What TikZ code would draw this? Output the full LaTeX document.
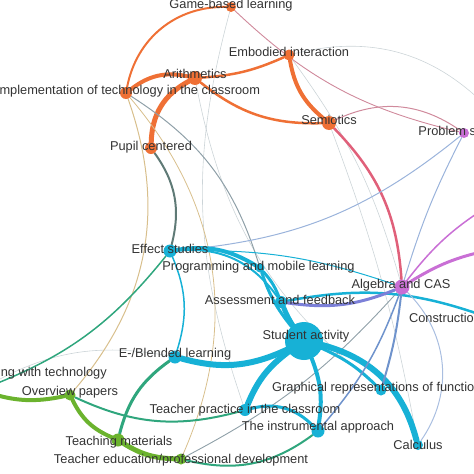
\documentclass[tikz,border=0pt]{standalone}
\usepackage{fontspec}
\setmainfont{Liberation Sans}
\usetikzlibrary{backgrounds}
\definecolor{themeorange}{HTML}{EF7035}
\definecolor{themecyan}{HTML}{17B1D6}
\definecolor{themepurple}{HTML}{C96FD5}
\definecolor{themegreen}{HTML}{6BB32E}
\definecolor{themeteal}{HTML}{2FA67D}
\definecolor{linkred}{HTML}{E0607A}
\definecolor{linkpink}{HTML}{D08A9C}
\definecolor{linkblue}{HTML}{6F93CC}
\definecolor{linkviolet}{HTML}{7C80D8}
\definecolor{linkgray}{HTML}{8FA0A8}
\definecolor{linkdark}{HTML}{5F7A76}
\definecolor{linkbeige}{HTML}{D8BF8C}

\begin{document}
\begin{tikzpicture}[
    x=1pt, y=-1pt,
    topic/.style={circle, inner sep=0pt, minimum size=#1, draw=none},
    every label/.style={font=\fontsize{12.8}{14}\selectfont, text=black!80, inner sep=0pt},
    link/.style={draw, line cap=round},
    faint/.style={link, draw=linkgray, line width=0.6pt, draw opacity=0.45}
  ]
    \useasboundingbox (0,0) rectangle (474,474);

    % orange cluster
    \node[topic=10pt, fill=themeorange]  (game)   at (231,7)   {};
    \node[topic=11pt, fill=themeorange]  (embod)  at (289,55)  {};
    \node[topic=14pt, fill=themeorange]  (arith)  at (195,78)  {};
    \node[topic=12pt, fill=themeorange]  (impl)   at (126,93)  {};
    \node[topic=14pt, fill=themeorange]  (semio)  at (329,123) {};
    \node[topic=12pt, fill=themeorange]  (pupil)  at (151,148) {};
    % purple cluster
    \node[topic=10pt, fill=themepurple]  (problem) at (464,133) {};
    \node[topic=15pt, fill=themepurple]  (algebra) at (402,287) {};
    % cyan cluster
    \node[topic=13pt, fill=themecyan]    (effect)    at (170,251) {};
    \node[topic=9pt,  fill=themecyan]    (progr)     at (260,268) {};
    \node[topic=12pt, fill=themecyan]    (assess)    at (281,302) {};
    \node[topic=38pt, fill=themecyan]    (student)   at (304,341) {};
    \node[topic=13pt, fill=themecyan]    (blended)   at (175,357) {};
    \node[topic=11pt, fill=themecyan]    (graph)     at (381,390) {};
    \node[topic=12pt, fill=themecyan]    (teachprac) at (245,410) {};
    \node[topic=13pt, fill=themecyan]    (instr)     at (318,431) {};
    \node[topic=10pt, fill=themecyan]    (calc)      at (418,445) {};
    \node[topic=10pt, fill=themecyan]    (constr)    at (490,318) {};
    % green cluster
    \node[topic=11pt, fill=themegreen]   (learn)    at (-20,390) {};
    \node[topic=11pt, fill=themegreen]   (overview) at (70,395)  {};
    \node[topic=13pt, fill=themegreen]   (teachmat) at (118,440) {};
    \node[topic=11pt, fill=themegreen]   (teached)  at (181,459) {};

    \coordinate (offr1) at (490,250);
    \coordinate (offr2) at (490,205);
    \coordinate (offr3) at (490,110);

    % labels on top
    \path
      (game)      node[label={[yshift=2pt]center:Game-based learning}] {}
      (embod)     node[label={[yshift=3pt]center:Embodied interaction}] {}
      (arith)     node[label={[yshift=4pt]center:Arithmetics}] {}
      (impl)      node[label={[xshift=2pt, yshift=2pt]center:Implementation of technology in the classroom}] {}
      (semio)     node[label={[yshift=3pt]center:Semiotics}] {}
      (pupil)     node[label={[yshift=1pt]center:Pupil centered}] {}
      (problem)   node[label={[yshift=1pt]center:Problem solving}] {}
      (algebra)   node[label={[xshift=-1pt, yshift=2pt]center:Algebra and CAS}] {}
      (constr)    node[label={[xshift=-35pt]center:Constructionism}] {}
      (effect)    node[label={[yshift=2pt]center:Effect studies}] {}
      (progr)     node[label={[xshift=-1.5pt, yshift=1pt]center:Programming and mobile learning}] {}
      (assess)    node[label={[xshift=-1pt, yshift=2pt]center:Assessment and feedback}] {}
      (student)   node[label={[xshift=2pt, yshift=5pt]center:Student activity}] {}
      (blended)   node[label={[yshift=3pt]center:E-/Blended learning}] {}
      (graph)     node[label={[xshift=-1pt, yshift=2pt]center:Graphical representations of functions}] {}
      (teachprac) node[label={center:Teacher practice in the classroom}] {}
      (instr)     node[label={[yshift=4pt]center:The instrumental approach}] {}
      (calc)      node[label={center:Calculus}] {}
      (learn)     node[label={[xshift=56pt, yshift=17pt]center:Learning with technology}] {}
      (overview)  node[label={[yshift=3pt]center:Overview papers}] {}
      (teachmat)  node[label={[xshift=1pt, yshift=-2pt]center:Teaching materials}] {}
      (teached)   node[label={[yshift=-1pt]center:Teacher education/professional development}] {};

    \begin{scope}[on background layer]
    % faint background links
    \path
      (embod)   edge[faint, bend left=30]  (offr3)
      (learn)   edge[faint, bend left=20]  (blended)
      (arith)   edge[faint, bend right=20] (graph)
      (game)    edge[faint, bend right=17] (teachprac)
      (embod)   edge[faint, bend left=10]  (algebra)
      (semio)   edge[faint, bend left=5]   (calc)
      (teached) edge[link, draw=linkgray, line width=0.9pt, bend right=10] (algebra);

    % orange links
    \path
      (impl)  edge[link, draw=themeorange, line width=4pt, bend left=25]   (arith)
      (impl)  edge[link, draw=themeorange, line width=2pt, bend left=40]   (game)
      (arith) edge[link, draw=themeorange, line width=5pt, bend right=30]  (pupil)
      (arith) edge[link, draw=themeorange, line width=2.5pt, bend right=20] (semio)
      (arith) edge[link, draw=themeorange, line width=2.5pt, bend right=10] (embod)
      (embod) edge[link, draw=themeorange, line width=4pt, bend right=20]  (semio)
      (game)  edge[link, draw=linkpink, line width=0.9pt, bend right=15]   (problem)
      (semio) edge[link, draw=linkpink, line width=1pt, bend left=30]      (problem)
      (semio) edge[link, draw=linkred, line width=2.5pt, bend left=20]     (algebra);

    % grey and beige links
    \path
      (pupil)   edge[link, draw=linkdark, line width=2pt, bend left=25]    (effect)
      (impl)    edge[link, draw=linkgray, line width=1pt, bend left=20]    (progr)
      (impl)    edge[link, draw=linkbeige, line width=1pt, bend left=30]   (overview)
      (impl)    edge[link, draw=linkbeige, line width=0.8pt, bend left=32] (teached)
      (problem) edge[link, draw=linkblue!70, line width=1pt, bend left=17] (effect)
      (problem) edge[link, draw=linkblue!70, line width=1pt, bend right=5] (algebra);

    % cyan links
    \path
      (effect)    edge[link, draw=themecyan, line width=4pt, bend left=20]   (progr)
      (effect)    edge[link, draw=themecyan, line width=2pt, bend left=30]   (assess)
      (effect)    edge[link, draw=themecyan, line width=1pt, bend left=10]   (algebra)
      (progr)     edge[link, draw=themecyan, line width=3pt, bend left=10]   (assess)
      (progr)     edge[link, draw=themecyan, line width=3pt, bend right=10]  (student)
      (assess)    edge[link, draw=themecyan, line width=5pt, bend right=5]   (student)
      (effect)    edge[link, draw=themecyan, line width=1.5pt, bend left=20] (blended)
      (blended)   edge[link, draw=themecyan, line width=6pt, bend right=20]  (student)
      (student)   edge[link, draw=themecyan, line width=6pt, bend right=15]  (teachprac)
      (student)   edge[link, draw=themecyan, line width=4pt, bend left=15]   (instr)
      (student)   edge[link, draw=themecyan, line width=6pt, bend left=30]   (calc)
      (student)   edge[link, draw=themecyan, line width=3pt, bend left=10]   (graph)
      (teachprac) edge[link, draw=themecyan, line width=3pt, bend left=30]   (instr)
      (assess)    edge[link, draw=themecyan, line width=2.5pt, bend left=15] (constr);

    % purple and blue links
    \path
      (assess)  edge[link, draw=linkviolet, line width=3pt, bend right=15]  (algebra)
      (algebra) edge[link, draw=linkblue, line width=1.5pt, bend left=10]   (instr)
      (algebra) edge[link, draw=linkblue, line width=2pt, bend left=5]      (graph)
      (algebra) edge[link, draw=linkblue!60, line width=1pt, bend left=40]  (calc)
      (algebra) edge[link, draw=themepurple, line width=3pt, bend left=10]  (offr1)
      (algebra) edge[link, draw=themepurple, line width=1.5pt, bend left=10] (offr2);

    % green links
    \path
      (learn)    edge[link, draw=themegreen, line width=4pt, bend right=15]  (overview)
      (overview) edge[link, draw=themegreen, line width=4pt, bend right=20]  (teachmat)
      (teachmat) edge[link, draw=themegreen, line width=5pt, bend right=15]  (teached)
      (overview) edge[link, draw=themeteal, line width=2pt, bend right=20]   (teachprac)
      (blended)  edge[link, draw=themeteal, line width=3pt, bend right=20]   (teachmat)
      (effect)   edge[link, draw=themeteal, line width=1.5pt, bend left=15]  (learn)
      (teached)  edge[link, draw=themeteal, line width=2pt, bend right=25]   (instr);
    \end{scope}
  \end{tikzpicture}
\end{document}
